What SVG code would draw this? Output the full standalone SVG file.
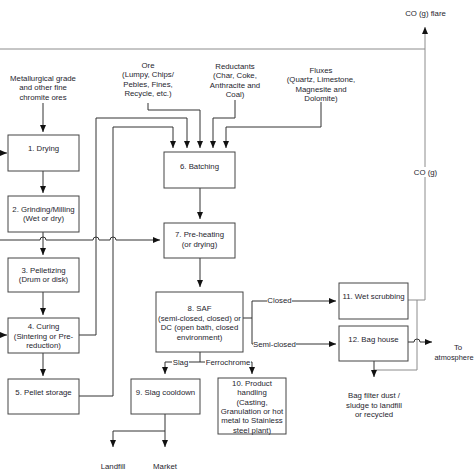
<svg xmlns="http://www.w3.org/2000/svg" width="474" height="474" viewBox="0 0 474 474">
<defs>
<style>
text{font-family:"Liberation Sans",Arial,sans-serif;font-size:7.8px;fill:#1e1e2e;text-anchor:middle}
.box{fill:#fff;stroke:#444;stroke-width:1}
.c{fill:none;stroke:#333;stroke-width:1}
.g{fill:none;stroke:#8c8c8c;stroke-width:1}
.a{marker-end:url(#ah)}
.bg{fill:#fff}
</style>
<marker id="ah" markerWidth="7" markerHeight="6" refX="7" refY="3" orient="auto" markerUnits="userSpaceOnUse"><path d="M0,0 L7,3 L0,6 z" fill="#111"/></marker>
</defs>
<rect width="474" height="474" fill="#fff"/>
<g id="connectors">
<path class="g" d="M0,49 H425"/>
<path class="g a" d="M408,300 H425 V27"/>
<path class="g" d="M417,300 V370 H374"/>
<path class="c a" d="M43,103 V132"/>
<path class="c a" d="M43,171 V193"/>
<path class="c a" d="M43,232 V255"/>
<path class="c a" d="M43,292 V315"/>
<path class="c a" d="M43,353 V376"/>
<path class="c a" d="M0,153 H7"/>
<path class="c a" d="M0,335 H7"/>
<path class="c a" d="M0,240 H40 a3,3 0 0 1 6,0 H93 a3,3 0 0 1 6,0 H110 a3,3 0 0 1 6,0 H160"/>
<path class="c a" d="M79,335 H96 V118 H187 V148"/>
<path class="c a" d="M79,396 H113 V127 H173 V148"/>
<path class="c a" d="M148,103 V110 H200 V148"/>
<path class="c a" d="M235,100 V118 H213 V148"/>
<path class="c a" d="M321,102 V127 H226 V148"/>
<path class="c a" d="M200,188 V219"/>
<path class="c a" d="M200,258 V287"/>
<path class="c" d="M243,318 H252 M252,301 V344"/>
<path class="c a" d="M252,301 H336"/>
<path class="c a" d="M252,344 H336"/>
<path class="c" d="M200,352 V362 M165,362 H252"/>
<path class="c a" d="M165,362 V374"/>
<path class="c a" d="M252,362 V374"/>
<path class="c a" d="M165,414 V447"/>
<path class="c" d="M113,431 H165"/>
<path class="c a" d="M113,431 V447"/>
<path class="c a" d="M374,361 V377"/>
<path class="c a" d="M408,342 H414 a3,3 0 0 1 6,0 H432"/>
<rect class="bg" x="413" y="167" width="25" height="10"/>
<text x="425.5" y="175">CO (g)</text>
<rect class="bg" x="267" y="296" width="25" height="9"/>
<text x="279.5" y="303">Closed</text>
<rect class="bg" x="253" y="340" width="43" height="9"/>
<text x="274.5" y="347">Semi-closed</text>
<rect class="bg" x="172" y="358" width="17" height="9"/>
<text x="180.5" y="365">Slag</text>
<rect class="bg" x="205" y="358" width="46" height="9"/>
<text x="228" y="365">Ferrochrome</text>
</g>
<g id="inputs">
<text x="43" y="81">Metallurgical grade</text>
<text x="43" y="90.3">and other fine</text>
<text x="43" y="99.6">chromite ores</text>
<text x="148" y="68">Ore</text>
<text x="148" y="77.3">(Lumpy, Chips/</text>
<text x="148" y="86.6">Pebles, Fines,</text>
<text x="148" y="95.9">Recycle, etc.)</text>
<text x="235" y="69">Reductants</text>
<text x="235" y="78.3">(Char, Coke,</text>
<text x="235" y="87.6">Anthracite and</text>
<text x="235" y="96.9">Coal)</text>
<text x="321" y="73">Fluxes</text>
<text x="321" y="82.3">(Quartz, Limestone,</text>
<text x="321" y="91.6">Magnesite and</text>
<text x="321" y="100.9">Dolomite)</text>
<text x="425.5" y="16">CO (g) flare</text>
</g>
<g id="n1"><rect class="box" x="8" y="135" width="71" height="36"/><text x="43.5" y="151">1. Drying</text></g>
<g id="n2"><rect class="box" x="8" y="196" width="71" height="36"/><text x="43.5" y="212">2. Grinding/Milling</text><text x="43.5" y="221">(Wet or dry)</text></g>
<g id="n3"><rect class="box" x="8" y="258" width="71" height="34"/><text x="43.5" y="273">3. Pelletizing</text><text x="43.5" y="282">(Drum or disk)</text></g>
<g id="n4"><rect class="box" x="8" y="318" width="71" height="35"/><text x="43.5" y="329">4. Curing</text><text x="43.5" y="338.5">(Sintering or Pre-</text><text x="43.5" y="348">reduction)</text></g>
<g id="n5"><rect class="box" x="8" y="379" width="71" height="35"/><text x="43.5" y="395">5. Pellet storage</text></g>
<g id="n6"><rect class="box" x="164" y="152" width="71" height="36"/><text x="199.5" y="169">6. Batching</text></g>
<g id="n7"><rect class="box" x="164" y="223" width="71" height="35"/><text x="199.5" y="237">7. Pre-heating</text><text x="199.5" y="247">(or drying)</text></g>
<g id="n8"><rect class="box" x="156" y="292" width="87" height="60"/><text x="199.5" y="311">8. SAF</text><text x="199.5" y="320.5">(semi-closed, closed) or</text><text x="199.5" y="330">DC (open bath, closed</text><text x="199.5" y="339.5">environment)</text></g>
<g id="n9"><rect class="box" x="131" y="379" width="69" height="35"/><text x="165.5" y="395">9. Slag cooldown</text></g>
<g id="n10"><rect class="box" x="218" y="378" width="68" height="56"/><text x="252" y="386">10. Product</text><text x="252" y="395.3">handling</text><text x="252" y="404.6">(Casting,</text><text x="252" y="413.9">Granulation or hot</text><text x="252" y="423.2">metal to Stainless</text><text x="252" y="432.5">steel plant)</text></g>
<g id="n11"><rect class="box" x="339" y="283" width="69" height="36"/><text x="373.5" y="299">11. Wet scrubbing</text></g>
<g id="n12"><rect class="box" x="339" y="326" width="69" height="35"/><text x="373.5" y="342">12. Bag house</text></g>
<g id="outputs">
<text x="374" y="398">Bag filter dust /</text>
<text x="374" y="407.5">sludge to landfill</text>
<text x="374" y="417">or recycled</text>
<text x="458" y="350">To</text>
<text x="454" y="360" style="font-size:7.4px">atmosphere</text>
<text x="113" y="469">Landfill</text>
<text x="165" y="469">Market</text>
</g>
</svg>
